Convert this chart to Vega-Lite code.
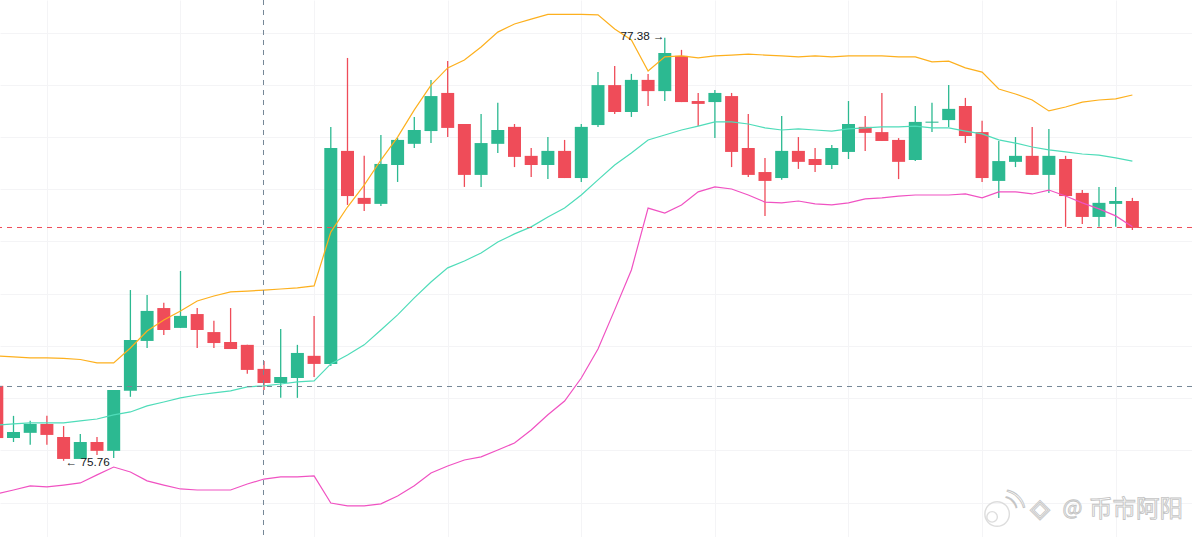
{
  "$schema": "https://vega.github.io/schema/vega-lite/v6.json",
  "width": 1192,
  "height": 537,
  "padding": 0,
  "autosize": "none",
  "background": "#ffffff",
  "config": {
    "view": {"stroke": null},
    "axis": {"domain": false, "labels": false, "ticks": false, "title": null, "gridColor": "#f4f4f6", "gridWidth": 1}
  },
  "datasets": {
    "bars": [
      {"i":0,"o":76.047,"h":76.058,"l":75.832,"c":75.847,"up":76.162,"mid":75.897,"lo":75.633},
      {"i":1,"o":75.847,"h":75.932,"l":75.832,"c":75.870,"up":76.158,"mid":75.901,"lo":75.648},
      {"i":2,"o":75.867,"h":75.913,"l":75.821,"c":75.901,"up":76.154,"mid":75.905,"lo":75.664},
      {"i":3,"o":75.901,"h":75.932,"l":75.821,"c":75.859,"up":76.154,"mid":75.905,"lo":75.660},
      {"i":4,"o":75.851,"h":75.893,"l":75.76,"c":75.767,"up":76.152,"mid":75.905,"lo":75.667},
      {"i":5,"o":75.767,"h":75.863,"l":75.767,"c":75.832,"up":76.148,"mid":75.913,"lo":75.675},
      {"i":6,"o":75.832,"h":75.851,"l":75.782,"c":75.798,"up":76.135,"mid":75.920,"lo":75.706},
      {"i":7,"o":75.798,"h":76.031,"l":75.771,"c":76.031,"up":76.135,"mid":75.936,"lo":75.736},
      {"i":8,"o":76.028,"h":76.414,"l":76.005,"c":76.223,"up":76.192,"mid":75.947,"lo":75.717},
      {"i":9,"o":76.219,"h":76.395,"l":76.192,"c":76.334,"up":76.257,"mid":75.970,"lo":75.683},
      {"i":10,"o":76.345,"h":76.365,"l":76.242,"c":76.261,"up":76.299,"mid":75.985,"lo":75.667},
      {"i":11,"o":76.269,"h":76.487,"l":76.269,"c":76.315,"up":76.334,"mid":76.001,"lo":75.652},
      {"i":12,"o":76.322,"h":76.345,"l":76.192,"c":76.261,"up":76.372,"mid":76.012,"lo":75.648},
      {"i":13,"o":76.253,"h":76.296,"l":76.192,"c":76.211,"up":76.391,"mid":76.020,"lo":75.648},
      {"i":14,"o":76.215,"h":76.345,"l":76.188,"c":76.188,"up":76.407,"mid":76.028,"lo":75.648},
      {"i":15,"o":76.204,"h":76.204,"l":76.093,"c":76.108,"up":76.410,"mid":76.043,"lo":75.671},
      {"i":16,"o":76.112,"h":76.142,"l":76.031,"c":76.058,"up":76.414,"mid":76.047,"lo":75.690},
      {"i":17,"o":76.058,"h":76.265,"l":76.001,"c":76.081,"up":76.418,"mid":76.054,"lo":75.698},
      {"i":18,"o":76.077,"h":76.204,"l":76.001,"c":76.173,"up":76.422,"mid":76.062,"lo":75.698},
      {"i":19,"o":76.162,"h":76.315,"l":76.081,"c":76.131,"up":76.430,"mid":76.066,"lo":75.702},
      {"i":20,"o":76.131,"h":77.039,"l":76.123,"c":76.958,"up":76.636,"mid":76.131,"lo":75.598},
      {"i":21,"o":76.947,"h":77.303,"l":76.740,"c":76.774,"up":76.732,"mid":76.165,"lo":75.587},
      {"i":22,"o":76.767,"h":76.928,"l":76.717,"c":76.744,"up":76.816,"mid":76.204,"lo":75.587},
      {"i":23,"o":76.744,"h":77.008,"l":76.736,"c":76.897,"up":76.912,"mid":76.261,"lo":75.595},
      {"i":24,"o":76.893,"h":76.996,"l":76.828,"c":76.989,"up":77.000,"mid":76.319,"lo":75.625},
      {"i":25,"o":76.974,"h":77.077,"l":76.958,"c":77.027,"up":77.104,"mid":76.384,"lo":75.664},
      {"i":26,"o":77.023,"h":77.219,"l":76.977,"c":77.157,"up":77.199,"mid":76.445,"lo":75.713},
      {"i":27,"o":77.169,"h":77.291,"l":77.000,"c":77.035,"up":77.265,"mid":76.499,"lo":75.740},
      {"i":28,"o":77.050,"h":77.050,"l":76.809,"c":76.855,"up":77.295,"mid":76.525,"lo":75.763},
      {"i":29,"o":76.855,"h":77.088,"l":76.809,"c":76.977,"up":77.345,"mid":76.556,"lo":75.775},
      {"i":30,"o":76.974,"h":77.131,"l":76.939,"c":77.027,"up":77.402,"mid":76.598,"lo":75.801},
      {"i":31,"o":77.039,"h":77.050,"l":76.885,"c":76.924,"up":77.433,"mid":76.629,"lo":75.828},
      {"i":32,"o":76.928,"h":76.958,"l":76.847,"c":76.893,"up":77.452,"mid":76.656,"lo":75.878},
      {"i":33,"o":76.893,"h":77.000,"l":76.839,"c":76.947,"up":77.470,"mid":76.694,"lo":75.936},
      {"i":34,"o":76.947,"h":76.989,"l":76.843,"c":76.843,"up":77.470,"mid":76.728,"lo":75.989},
      {"i":35,"o":76.843,"h":77.050,"l":76.828,"c":77.039,"up":77.470,"mid":76.778,"lo":76.077},
      {"i":36,"o":77.046,"h":77.249,"l":77.039,"c":77.199,"up":77.468,"mid":76.836,"lo":76.188},
      {"i":37,"o":77.199,"h":77.272,"l":77.088,"c":77.096,"up":77.414,"mid":76.893,"lo":76.338},
      {"i":38,"o":77.096,"h":77.242,"l":77.077,"c":77.219,"up":77.372,"mid":76.939,"lo":76.491},
      {"i":39,"o":77.219,"h":77.242,"l":77.119,"c":77.176,"up":77.253,"mid":76.989,"lo":76.728},
      {"i":40,"o":77.176,"h":77.38,"l":77.138,"c":77.322,"up":77.307,"mid":77.008,"lo":76.709},
      {"i":41,"o":77.311,"h":77.334,"l":77.134,"c":77.134,"up":77.311,"mid":77.027,"lo":76.740},
      {"i":42,"o":77.138,"h":77.169,"l":77.042,"c":77.127,"up":77.303,"mid":77.042,"lo":76.790},
      {"i":43,"o":77.134,"h":77.180,"l":76.996,"c":77.169,"up":77.311,"mid":77.058,"lo":76.809},
      {"i":44,"o":77.157,"h":77.169,"l":76.885,"c":76.943,"up":77.314,"mid":77.058,"lo":76.801},
      {"i":45,"o":76.958,"h":77.088,"l":76.847,"c":76.855,"up":77.318,"mid":77.050,"lo":76.778},
      {"i":46,"o":76.866,"h":76.920,"l":76.698,"c":76.832,"up":77.314,"mid":77.035,"lo":76.751},
      {"i":47,"o":76.843,"h":77.081,"l":76.836,"c":76.947,"up":77.311,"mid":77.027,"lo":76.748},
      {"i":48,"o":76.947,"h":77.000,"l":76.878,"c":76.905,"up":77.307,"mid":77.031,"lo":76.755},
      {"i":49,"o":76.916,"h":76.958,"l":76.866,"c":76.893,"up":77.311,"mid":77.027,"lo":76.744},
      {"i":50,"o":76.893,"h":76.970,"l":76.878,"c":76.958,"up":77.307,"mid":77.023,"lo":76.740},
      {"i":51,"o":76.943,"h":77.138,"l":76.916,"c":77.050,"up":77.311,"mid":77.031,"lo":76.748},
      {"i":52,"o":77.039,"h":77.081,"l":76.947,"c":77.016,"up":77.311,"mid":77.035,"lo":76.763},
      {"i":53,"o":77.019,"h":77.169,"l":76.985,"c":76.985,"up":77.311,"mid":77.039,"lo":76.767},
      {"i":54,"o":76.989,"h":76.996,"l":76.839,"c":76.905,"up":77.307,"mid":77.039,"lo":76.774},
      {"i":55,"o":76.912,"h":77.119,"l":76.908,"c":77.058,"up":77.307,"mid":77.042,"lo":76.778},
      {"i":56,"o":77.055,"h":77.131,"l":77.019,"c":77.059,"up":77.288,"mid":77.035,"lo":76.778},
      {"i":57,"o":77.065,"h":77.199,"l":77.039,"c":77.108,"up":77.291,"mid":77.035,"lo":76.778},
      {"i":58,"o":77.119,"h":77.150,"l":76.977,"c":77.004,"up":77.265,"mid":77.023,"lo":76.782},
      {"i":59,"o":77.019,"h":77.062,"l":76.828,"c":76.843,"up":77.249,"mid":77.012,"lo":76.767},
      {"i":60,"o":76.832,"h":76.985,"l":76.767,"c":76.908,"up":77.184,"mid":76.989,"lo":76.790},
      {"i":61,"o":76.905,"h":77.000,"l":76.885,"c":76.928,"up":77.165,"mid":76.977,"lo":76.790},
      {"i":62,"o":76.928,"h":77.039,"l":76.855,"c":76.855,"up":77.142,"mid":76.962,"lo":76.782},
      {"i":63,"o":76.855,"h":77.031,"l":76.786,"c":76.928,"up":77.100,"mid":76.951,"lo":76.797},
      {"i":64,"o":76.916,"h":76.928,"l":76.656,"c":76.774,"up":77.115,"mid":76.943,"lo":76.774},
      {"i":65,"o":76.786,"h":76.797,"l":76.667,"c":76.694,"up":77.134,"mid":76.935,"lo":76.748},
      {"i":66,"o":76.694,"h":76.809,"l":76.656,"c":76.748,"up":77.142,"mid":76.931,"lo":76.725},
      {"i":67,"o":76.744,"h":76.809,"l":76.656,"c":76.755,"up":77.146,"mid":76.920,"lo":76.698},
      {"i":68,"o":76.755,"h":76.767,"l":76.644,"c":76.652,"up":77.161,"mid":76.908,"lo":76.656}
    ]
  },
  "layer": [
    {
      "data": {"name": "bars"},
      "mark": {"type": "rule", "strokeWidth": 1.3, "clip": true},
      "encoding": {
        "x": {"field": "i", "type": "quantitative", "scale": {"domain": [0.1916, 71.57], "nice": false, "zero": false, "padding": 0},
          "axis": {"grid": true, "values": [3, 11, 19, 27, 35, 43, 51, 59, 67]}},
        "y": {"field": "h", "type": "quantitative", "scale": {"domain": [75.468, 77.525], "nice": false, "zero": false},
          "axis": {"grid": true, "values": [75.6, 75.8, 76, 76.2, 76.4, 76.6, 76.8, 77, 77.2, 77.4]}},
        "y2": {"field": "l"},
        "color": {"condition": {"test": "datum.c >= datum.o", "value": "#2cb991"}, "value": "#ef4c59"}
      }
    },
    {
      "data": {"name": "bars"},
      "mark": {"type": "bar", "width": 13, "orient": "vertical", "clip": true},
      "encoding": {
        "x": {"field": "i", "type": "quantitative"},
        "y": {"field": "o", "type": "quantitative"},
        "y2": {"field": "c"},
        "color": {"condition": {"test": "datum.c >= datum.o", "value": "#2cb991"}, "value": "#ef4c59"}
      }
    },
    {
      "data": {"name": "bars"},
      "mark": {"type": "line", "stroke": "#fdb01e", "strokeWidth": 1.2, "clip": true},
      "encoding": {"x": {"field": "i", "type": "quantitative"}, "y": {"field": "up", "type": "quantitative"}}
    },
    {
      "data": {"name": "bars"},
      "mark": {"type": "line", "stroke": "#4fdcb9", "strokeWidth": 1.2, "clip": true},
      "encoding": {"x": {"field": "i", "type": "quantitative"}, "y": {"field": "mid", "type": "quantitative"}}
    },
    {
      "data": {"name": "bars"},
      "mark": {"type": "line", "stroke": "#f052c2", "strokeWidth": 1.2, "clip": true},
      "encoding": {"x": {"field": "i", "type": "quantitative"}, "y": {"field": "lo", "type": "quantitative"}}
    },
    {
      "data": {"values": [{"price": 76.6536}]},
      "mark": {"type": "rule", "stroke": "#ef4c59", "strokeWidth": 1, "strokeDash": [5, 5]},
      "encoding": {"y": {"field": "price", "type": "quantitative"}}
    },
    {
      "data": {"values": [{"price": 76.0445}]},
      "mark": {"type": "rule", "stroke": "#758696", "strokeWidth": 1, "strokeDash": [5, 5]},
      "encoding": {"y": {"field": "price", "type": "quantitative"}}
    },
    {
      "data": {"values": [{"i": 15.97}]},
      "mark": {"type": "rule", "stroke": "#758696", "strokeWidth": 1, "strokeDash": [5, 5]},
      "encoding": {"x": {"field": "i", "type": "quantitative"}}
    },
    {
      "data": {"values": [{"i": 40, "price": 77.38, "label": "77.38 →"}]},
      "mark": {"type": "text", "align": "right", "baseline": "middle", "dx": 0, "dy": -2, "font": "Liberation Sans", "fontSize": 11.7, "fill": "#131722"},
      "encoding": {"x": {"field": "i", "type": "quantitative"}, "y": {"field": "price", "type": "quantitative"}, "text": {"field": "label"}}
    },
    {
      "data": {"values": [{"i": 4, "price": 75.76, "label": "← 75.76"}]},
      "mark": {"type": "text", "align": "left", "baseline": "middle", "dx": 2, "dy": 1, "font": "Liberation Sans", "fontSize": 11.7, "fill": "#131722"},
      "encoding": {"x": {"field": "i", "type": "quantitative"}, "y": {"field": "price", "type": "quantitative"}, "text": {"field": "label"}}
    },
    {
      "data": {"values": [
        {"i": 71.03, "price": 75.572, "label": "币市阿阳", "size": 23.5, "tilt": 0},
        {"i": 65, "price": 75.575, "label": "@", "size": 21, "tilt": 0},
        {"i": 63.05, "price": 75.575, "label": "◈", "size": 26, "tilt": 0},
        {"i": 61.3, "price": 75.63, "label": ")", "size": 24, "tilt": -45},
        {"i": 60.9, "price": 75.612, "label": ")", "size": 15, "tilt": -45}
      ]},
      "mark": {"type": "text", "align": "right", "baseline": "middle", "font": "Noto Sans CJK SC", "fill": "#ffffff", "stroke": "#c4c4c4", "strokeWidth": 0.9},
      "encoding": {
        "x": {"field": "i", "type": "quantitative"},
        "y": {"field": "price", "type": "quantitative"},
        "text": {"field": "label"},
        "angle": {"field": "tilt", "type": "quantitative", "scale": null},
        "size": {"field": "size", "type": "quantitative", "scale": null}
      }
    },
    {
      "data": {"values": [
        {"i": 59.9, "price": 75.556, "size": 600},
        {"i": 59.6, "price": 75.545, "size": 110}
      ]},
      "mark": {"type": "point", "shape": "circle", "filled": false, "stroke": "#d0d0d0", "strokeWidth": 1.4},
      "encoding": {
        "x": {"field": "i", "type": "quantitative"},
        "y": {"field": "price", "type": "quantitative"},
        "size": {"field": "size", "type": "quantitative", "scale": null}
      }
    }
  ]
}
